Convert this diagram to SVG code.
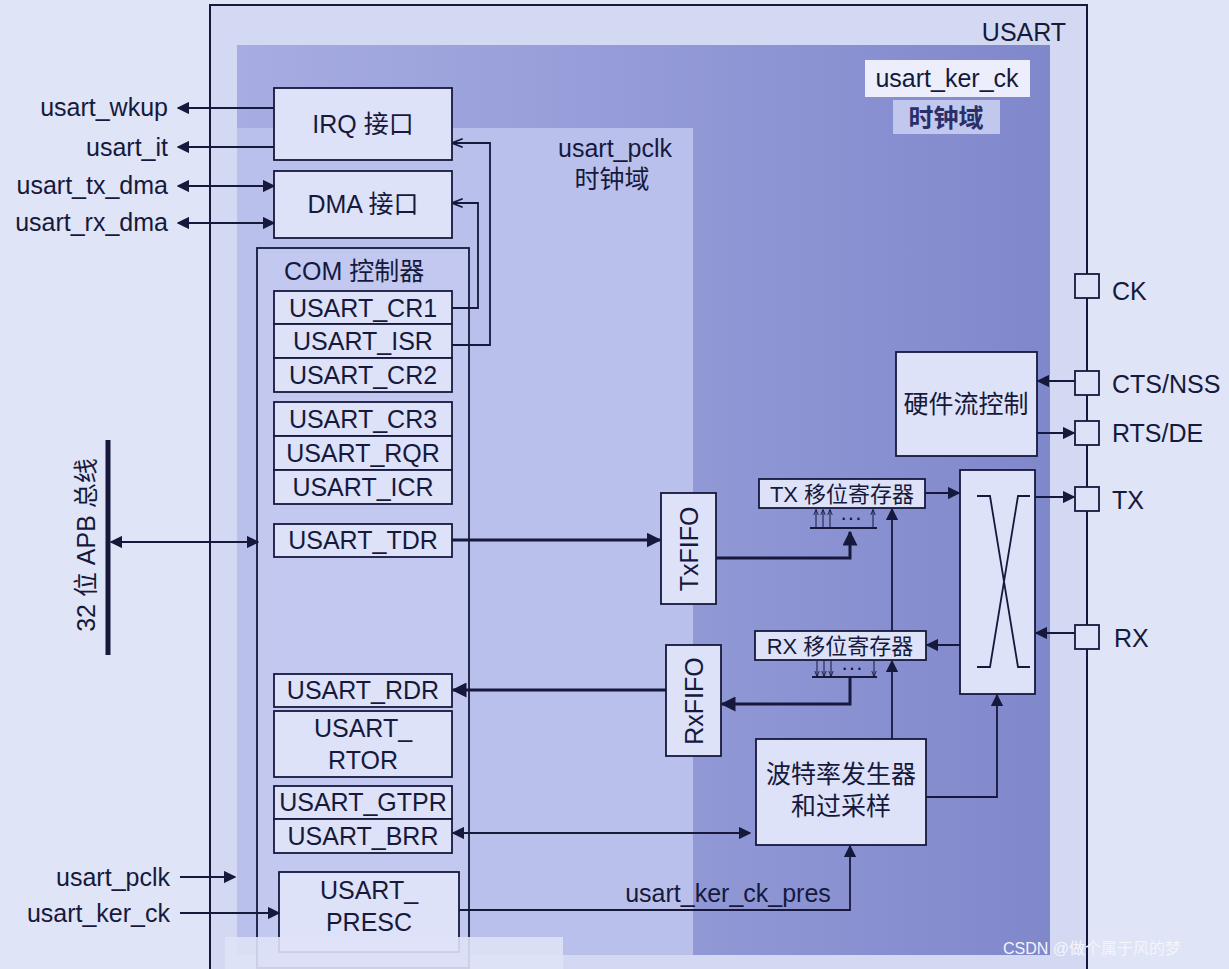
<svg xmlns="http://www.w3.org/2000/svg" width="1229" height="969" viewBox="0 0 1229 969">
<defs>
<linearGradient id="ker" x1="0" x2="1" y1="0" y2="0"><stop offset="0" stop-color="#a7ade2"/><stop offset="1" stop-color="#8088cc"/></linearGradient>
<marker id="a" viewBox="0 0 10 10" refX="9" refY="5" markerWidth="7" markerHeight="7" orient="auto-start-reverse"><path d="M0,0L10,5L0,10z" fill="#16193c"/></marker>
<marker id="b" viewBox="0 0 10 10" refX="9" refY="5" markerWidth="5" markerHeight="5" orient="auto-start-reverse"><path d="M0,0L10,5L0,10z" fill="#16193c"/></marker>
<marker id="s" viewBox="0 0 10 10" refX="9" refY="5" markerWidth="6" markerHeight="6" orient="auto"><path d="M0,1L10,5L0,9" fill="none" stroke="#16193c" stroke-width="1.5"/></marker>
</defs>
<style>
text{font-family:"Liberation Sans","Noto Sans CJK SC",sans-serif;fill:#16193c}
.t{font-size:25px}.m{font-size:25px;text-anchor:middle}.s{font-size:22px;text-anchor:middle}
.box{fill:#dde2f8;stroke:#16193c;stroke-width:1.8}
.ln{fill:none;stroke:#16193c;stroke-width:1.8}
.th{fill:none;stroke:#16193c;stroke-width:3}
.cb{fill:none;stroke:#16193c;stroke-width:1}
</style>
<rect width="1229" height="969" fill="#dfe4f6"/>
<rect x="210" y="5" width="877" height="970" fill="#d3d9f3" stroke="#16193c" stroke-width="2"/>
<rect x="237" y="45" width="813" height="910" fill="url(#ker)"/>
<rect x="237" y="128" width="456" height="827" fill="#bac0ec"/>
<rect x="865" y="60" width="165" height="37" fill="#eceffb"/>
<text x="947" y="87" class="m" font-size="24">usart_ker_ck</text>
<rect x="893" y="100" width="107" height="34" fill="#c2c7ee"/>
<text x="946" y="127" class="m" font-size="27" font-weight="bold" style="fill:#2a2f6a">时钟域</text>
<text x="1024" y="41" class="m">USART</text>
<text x="615" y="157" class="m">usart_pclk</text>
<text x="612" y="188" class="m">时钟域</text>
<line x1="1087" y1="5" x2="1087" y2="969" class="ln"/>

<g id="irq"><rect x="274" y="88" width="178" height="72" class="box"/><text x="363" y="133" class="m">IRQ 接口</text></g>
<g id="dma"><rect x="274" y="171" width="178" height="67" class="box"/><text x="363" y="213" class="m">DMA 接口</text></g>
<g id="com"><rect x="257" y="248" width="212" height="720" fill="#c2c8f0" stroke="#16193c" stroke-width="1.8"/><text x="284" y="280" class="t">COM 控制器</text></g>
<g id="regs">
<rect x="274" y="291" width="178" height="33" class="box"/><text x="363" y="317" class="m">USART_CR1</text>
<rect x="274" y="324" width="178" height="34" class="box"/><text x="363" y="350" class="m">USART_ISR</text>
<rect x="274" y="358" width="178" height="34" class="box"/><text x="363" y="384" class="m">USART_CR2</text>
<rect x="274" y="402" width="178" height="34" class="box"/><text x="363" y="428" class="m">USART_CR3</text>
<rect x="274" y="436" width="178" height="34" class="box"/><text x="363" y="462" class="m">USART_RQR</text>
<rect x="274" y="470" width="178" height="34" class="box"/><text x="363" y="496" class="m">USART_ICR</text>
<rect x="274" y="524" width="178" height="33" class="box"/><text x="363" y="549" class="m">USART_TDR</text>
<rect x="274" y="674" width="178" height="33" class="box"/><text x="363" y="699" class="m">USART_RDR</text>
<rect x="274" y="711" width="178" height="66" class="box"/><text x="363" y="737" class="m">USART_</text><text x="363" y="769" class="m">RTOR</text>
<rect x="274" y="786" width="178" height="33" class="box"/><text x="363" y="811" class="m">USART_GTPR</text>
<rect x="274" y="819" width="178" height="34" class="box"/><text x="363" y="845" class="m">USART_BRR</text>
</g>
<g id="presc"><rect x="279" y="872" width="180" height="80" class="box"/><text x="369" y="899" class="m">USART_</text><text x="369" y="931" class="m">PRESC</text></g>
<g id="txfifo"><rect x="661" y="493" width="55" height="111" class="box"/><text transform="translate(698,549) rotate(-90)" class="m">TxFIFO</text></g>
<g id="rxfifo"><rect x="666" y="645" width="55" height="111" class="box"/><text transform="translate(703,701) rotate(-90)" class="m">RxFIFO</text></g>
<g id="txsh"><rect x="759" y="479" width="166" height="29" class="box"/><text x="842" y="502" class="s">TX 移位寄存器</text></g>
<g id="rxsh"><rect x="755" y="631" width="171" height="29" class="box"/><text x="840" y="654" class="s">RX 移位寄存器</text></g>
<g id="baud"><rect x="756" y="739" width="170" height="106" class="box"/><text x="841" y="783" class="m">波特率发生器</text><text x="841" y="815" class="m">和过采样</text></g>
<g id="switch"><rect x="960" y="470" width="75" height="224" class="box"/><path d="M977,496H990L1018,667H1030M1030,496H1018L990,667H977" class="ln" stroke-width="1.3"/></g>
<g id="flow"><rect x="896" y="352" width="141" height="104" class="box"/><text x="966" y="413" class="m">硬件流控制</text></g>
<g id="pins" class="box">
<rect x="1075" y="274" width="24" height="24"/><rect x="1075" y="371" width="24" height="24"/><rect x="1075" y="421" width="24" height="24"/><rect x="1075" y="487" width="24" height="24"/><rect x="1075" y="625" width="24" height="24"/>
</g>
<text x="1112" y="300" class="t">CK</text><text x="1112" y="393" class="t">CTS/NSS</text><text x="1112" y="442" class="t">RTS/DE</text><text x="1112" y="509" class="t">TX</text><text x="1114" y="647" class="t">RX</text>
<g id="apb"><line x1="108" y1="440" x2="108" y2="655" stroke="#16193c" stroke-width="5"/><text transform="translate(95,545) rotate(-90)" class="m">32 位 APB 总线</text></g>
<text x="168" y="116" class="t" text-anchor="end">usart_wkup</text>
<text x="168" y="156" class="t" text-anchor="end">usart_it</text>
<text x="168" y="194" class="t" text-anchor="end">usart_tx_dma</text>
<text x="168" y="231" class="t" text-anchor="end">usart_rx_dma</text>
<text x="170" y="886" class="t" text-anchor="end">usart_pclk</text>
<text x="170" y="922" class="t" text-anchor="end">usart_ker_ck</text>
<text x="728" y="902" class="m">usart_ker_ck_pres</text>
<g id="connectors">
<line x1="274" y1="108" x2="178" y2="108" class="ln" marker-end="url(#a)"/>
<line x1="274" y1="147" x2="178" y2="147" class="ln" marker-end="url(#a)"/>
<line x1="274" y1="186" x2="178" y2="186" class="ln" marker-start="url(#a)" marker-end="url(#a)"/>
<line x1="274" y1="223" x2="178" y2="223" class="ln" marker-start="url(#a)" marker-end="url(#a)"/>
<polyline points="452,345 490,345 490,143 453,143" class="ln" stroke-width="1.3" marker-end="url(#s)"/>
<polyline points="452,308 478,308 478,203 453,203" class="ln" stroke-width="1.3" marker-end="url(#s)"/>
<line x1="111" y1="542" x2="258" y2="542" class="ln" marker-start="url(#a)" marker-end="url(#a)"/>
<line x1="180" y1="877" x2="235" y2="877" class="ln" marker-end="url(#a)"/>
<line x1="180" y1="913" x2="279" y2="913" class="ln" marker-end="url(#a)"/>
<line x1="452" y1="540" x2="660" y2="540" class="th" marker-end="url(#b)"/>
<polyline points="716,558 850,558 850,532" class="th" marker-end="url(#b)"/>
<line x1="810" y1="528" x2="877" y2="528" class="ln" stroke-width="2.5"/>
<line x1="816" y1="528" x2="816" y2="510" class="cb" marker-end="url(#s)"/>
<line x1="823" y1="528" x2="823" y2="510" class="cb" marker-end="url(#s)"/>
<line x1="830" y1="528" x2="830" y2="510" class="cb" marker-end="url(#s)"/>
<line x1="873" y1="528" x2="873" y2="510" class="cb" marker-end="url(#s)"/>
<text x="851" y="525" class="s" font-size="14">···</text>
<line x1="812" y1="677" x2="877" y2="677" class="ln" stroke-width="2.5"/>
<line x1="817" y1="661" x2="817" y2="676" class="cb" marker-end="url(#s)"/>
<line x1="824" y1="661" x2="824" y2="676" class="cb" marker-end="url(#s)"/>
<line x1="831" y1="661" x2="831" y2="676" class="cb" marker-end="url(#s)"/>
<line x1="874" y1="661" x2="874" y2="676" class="cb" marker-end="url(#s)"/>
<text x="852" y="675" class="s" font-size="13">···</text>
<polyline points="850,677 850,704 722,704" class="th" marker-end="url(#b)"/>
<line x1="666" y1="690" x2="453" y2="690" class="th" marker-end="url(#b)"/>
<line x1="892" y1="739" x2="892" y2="661" class="ln" marker-end="url(#a)"/>
<line x1="892" y1="631" x2="892" y2="509" class="ln" marker-end="url(#a)"/>
<polyline points="926,797 997,797 997,695" class="ln" marker-end="url(#a)"/>
<line x1="925" y1="493" x2="959" y2="493" class="ln" marker-end="url(#a)"/>
<line x1="1035" y1="497" x2="1074" y2="497" class="ln" marker-end="url(#a)"/>
<line x1="1075" y1="633" x2="1036" y2="633" class="ln" marker-end="url(#a)"/>
<line x1="960" y1="645" x2="927" y2="645" class="ln" marker-end="url(#a)"/>
<line x1="1075" y1="381" x2="1038" y2="381" class="ln" marker-end="url(#a)"/>
<line x1="1037" y1="433" x2="1074" y2="433" class="ln" marker-end="url(#a)"/>
<line x1="453" y1="833" x2="750" y2="833" class="ln" marker-start="url(#a)" marker-end="url(#a)"/>
<polyline points="459,910 850,910 850,846" class="ln" marker-end="url(#a)"/>
</g>
<rect x="225" y="937" width="338" height="32" fill="#dfe2f7" opacity="0.9"/>
<text x="1003" y="954" font-size="16" style="fill:#f4f5fb">CSDN @做个属于风的梦</text>
</svg>
